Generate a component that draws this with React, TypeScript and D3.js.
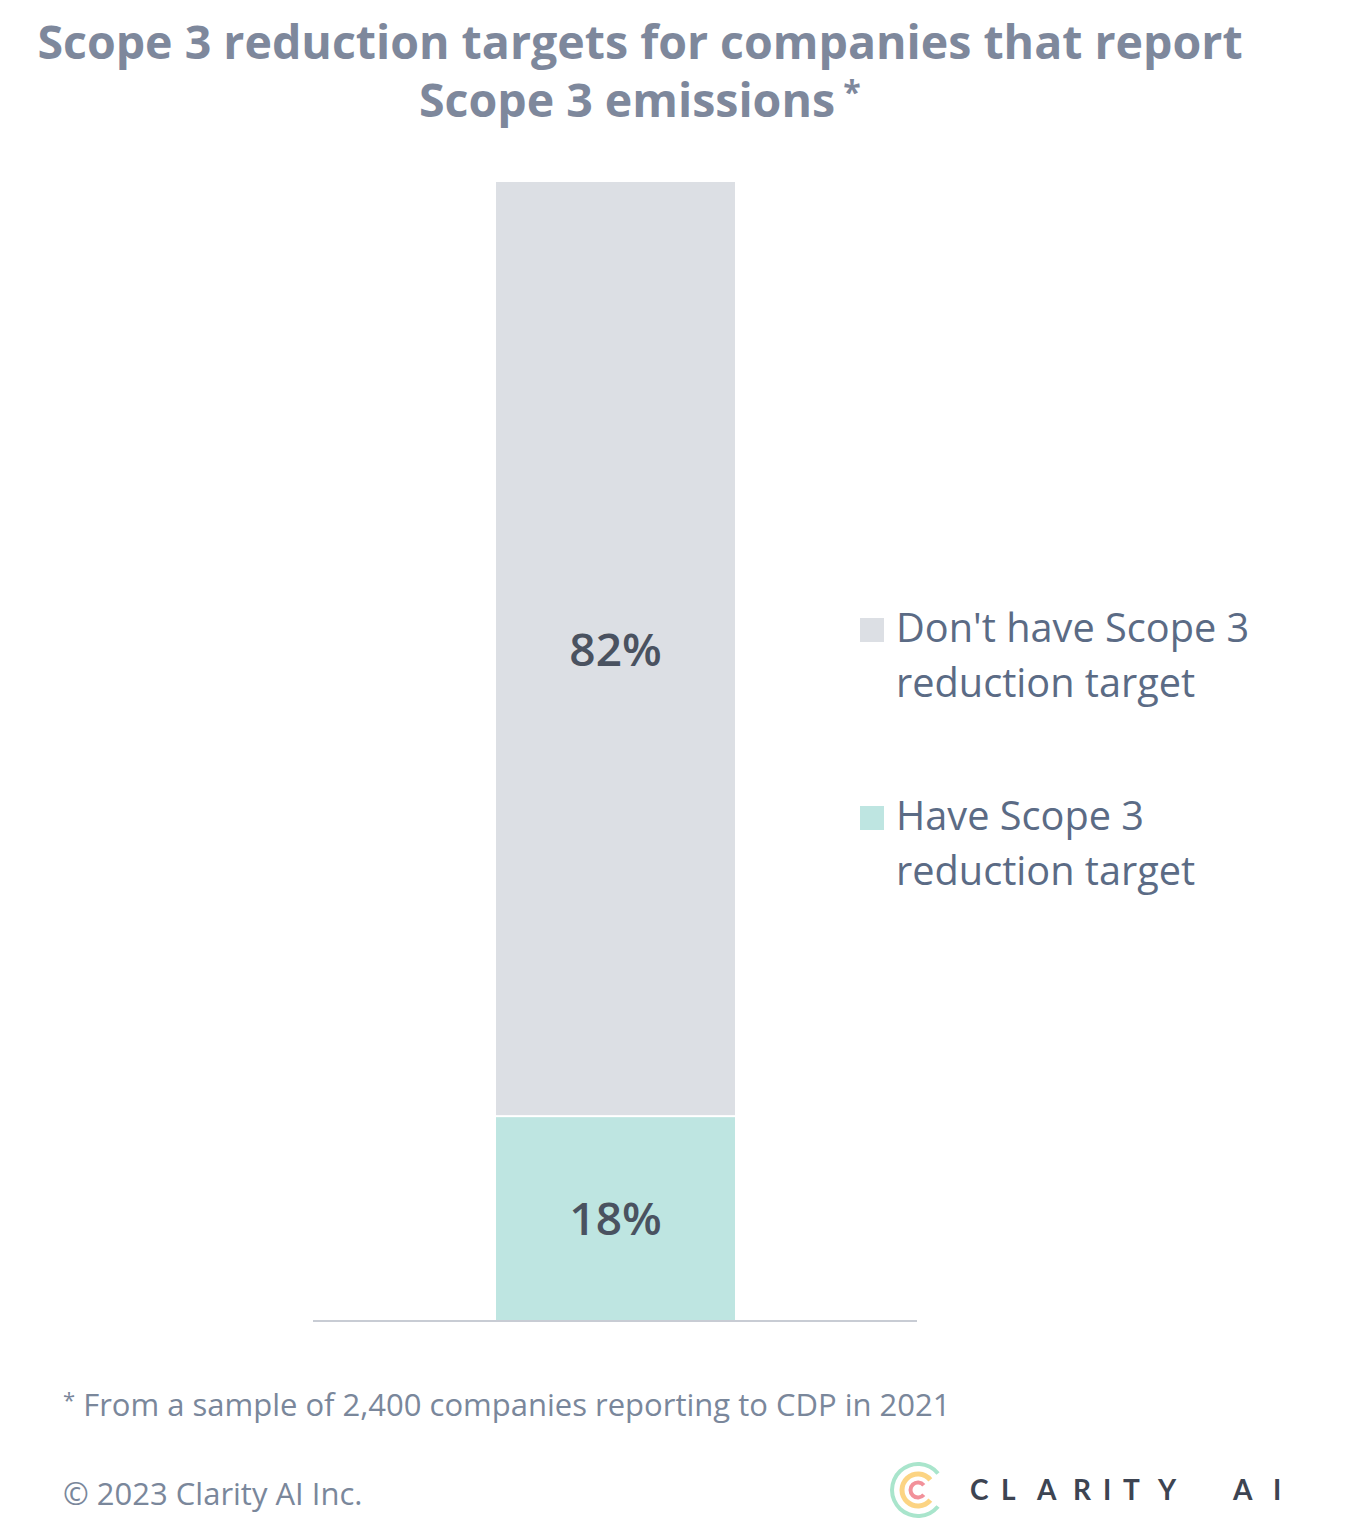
import React from "react";
import * as d3 from "d3";

const categories = ["Have Scope 3 reduction target", "Don't have Scope 3 reduction target"];
const values = [18, 82];
const labels = ["18%", "82%"];
const colors = ["#bee5e1", "#dcdfe4"];
const legendLines = [
  ["Don't have Scope 3", "reduction target"],
  ["Have Scope 3", "reduction target"],
];
const legendColors = ["#dcdfe4", "#bee5e1"];
const logoLetters = ["C", "L", "A", "R", "I", "T", "Y", "A", "I"];
const logoX = [970, 1001, 1037, 1073, 1103, 1123, 1158, 1233, 1273];

const W = 1372;
const H = 1536;
const FONT = "'Open Sans', 'Noto Sans', sans-serif";

export default function App() {
  const y = d3.scaleLinear().domain([0, 100]).range([1320, 182]);
  let acc = 0;
  const segs = values.map((v, i) => {
    const s = { y0: acc, y1: acc + v, label: labels[i], color: colors[i], name: categories[i] };
    acc += v;
    return s;
  });
  const bx = 496;
  const bw = 239;

  const arc = (r: number, w: number) =>
    d3.arc()({
      innerRadius: r - w / 2,
      outerRadius: r + w / 2,
      startAngle: Math.PI * 0.72,
      endAngle: Math.PI * 2.28,
      cornerRadius: w / 2,
    } as any) as string;

  return (
    <svg width={W} height={H} style={{ position: "absolute", left: 0, top: 0, background: "#fff" }}>
      <rect width={W} height={H} fill="#fff" />
      <g fontFamily={FONT} fontWeight={700} fill="#7e889c" textAnchor="middle">
        <text x={640} y={59} fontSize={46.5}>Scope 3 reduction targets for companies that report</text>
        <text x={627} y={117} fontSize={46.5}>Scope 3 emissions</text>
        <text x={852} y={104} fontSize={32}>*</text>
      </g>
      {segs.map((s, i) => (
        <g key={i}>
          <rect
            x={bx}
            width={bw}
            y={y(s.y1) + (i === 1 ? 0 : 2)}
            height={y(s.y0) - y(s.y1) - (i === 1 ? 0 : 2)}
            fill={s.color}
          />
          <text
            x={bx + bw / 2}
            y={(y(s.y0) + y(s.y1)) / 2 + 17}
            textAnchor="middle"
            fontFamily={FONT}
            fontSize={46}
            fontWeight={600}
            fill="#4a5260"
          >
            {s.label}
          </text>
        </g>
      ))}
      <line x1={313} x2={917} y1={1321} y2={1321} stroke="#c8ccd4" strokeWidth={2} />
      {legendLines.map((lines, i) => {
        const top = i === 0 ? 618 : 806;
        return (
          <g key={i}>
            <rect x={860} y={top} width={24} height={24} fill={legendColors[i]} />
            {lines.map((t, j) => (
              <text key={j} x={896} y={top + 24 + j * 55} fontFamily={FONT} fontSize={39.7} fill="#5b6b85">
                {t}
              </text>
            ))}
          </g>
        );
      })}
      <text x={63} y={1416} fontFamily={FONT} fontSize={31} fill="#7a879b">
        <tspan fontSize={22} dy={-8}>*</tspan>
        <tspan dy={8}> From a sample of 2,400 companies reporting to CDP in 2021</tspan>
      </text>
      <text x={63} y={1505} fontFamily={FONT} fontSize={31} fill="#7a879b">
        © 2023 Clarity AI Inc.
      </text>
      <g transform="translate(918,1490)">
        <path d={arc(26, 4)} fill="#a9e5cc" />
        <path d={arc(16, 5)} fill="#fcd483" />
        <path d={arc(7.5, 4)} fill="#f2919a" />
      </g>
      {logoLetters.map((c, i) => (
        <text
          key={i}
          x={logoX[i]}
          y={1500}
          fontFamily="Lato, 'DejaVu Sans', sans-serif"
          fontWeight={700}
          fontSize={28}
          fill="#3d4452"
        >
          {c}
        </text>
      ))}
    </svg>
  );
}
